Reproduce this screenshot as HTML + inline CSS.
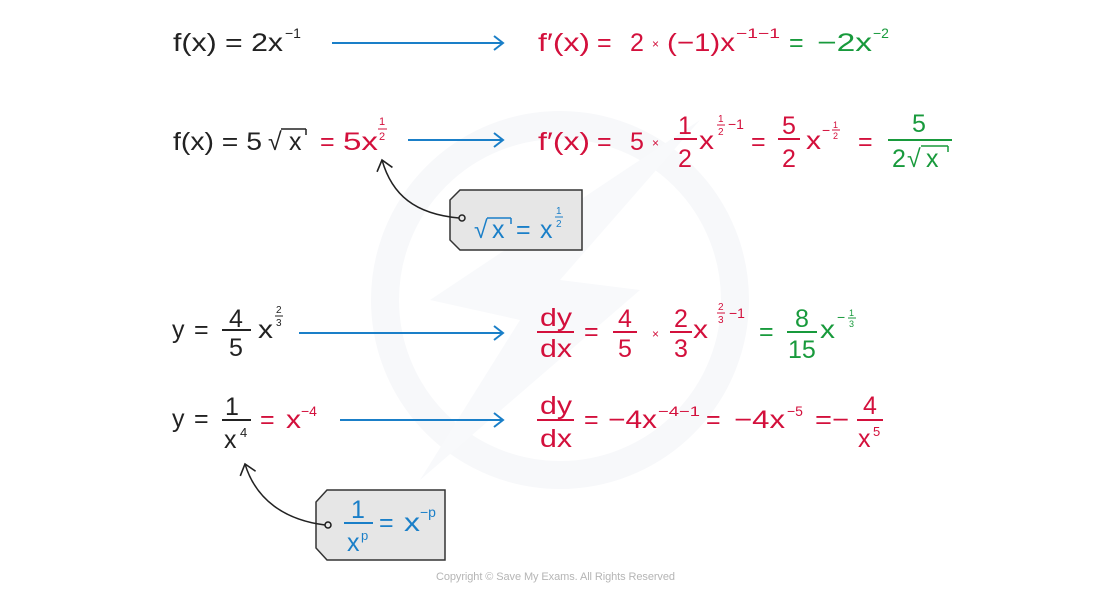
<!DOCTYPE html>
<html><head><meta charset="utf-8"><style>
html,body{margin:0;padding:0;background:#fff;}
svg{display:block;}
text{font-family:"Liberation Sans",sans-serif;}
.k{fill:#222}.r{fill:#d3103c}.g{fill:#189a3c}.b{fill:#1a7fc8}
</style></head><body>
<svg width="1100" height="594" viewBox="0 0 1100 594" xmlns="http://www.w3.org/2000/svg">
<defs>
<marker id="ab" markerWidth="12" markerHeight="16" refX="10" refY="8" orient="auto" markerUnits="userSpaceOnUse">
<path d="M1,1 L10,8 L1,15" fill="none" stroke="#1a7fc8" stroke-width="2"/></marker>
<marker id="ak" markerWidth="14" markerHeight="18" refX="11" refY="9" orient="auto" markerUnits="userSpaceOnUse">
<path d="M1,1 L11,9 L1,17" fill="none" stroke="#222" stroke-width="1.6"/></marker>
</defs>
<circle cx="560" cy="300" r="175" fill="none" stroke="#f7f8fa" stroke-width="28"/>
<path d="M430,300 L700,120 L560,280 L640,290 L420,480 L520,320 Z" fill="#f8f9fb"/>

<g font-size="25">
<!-- Row 1 -->
<text x="173" y="51" class="k" textLength="110" lengthAdjust="spacingAndGlyphs">f(x) = 2x</text>
<text x="285" y="38" class="k" font-size="14">−1</text>
<line x1="332" y1="43" x2="503" y2="43" stroke="#1a7fc8" stroke-width="2" marker-end="url(#ab)"/>
<text x="538" y="51" class="r" textLength="52" lengthAdjust="spacingAndGlyphs">f′(x)</text>
<text x="597" y="51" class="r">=</text>
<text x="630" y="51" class="r">2</text>
<text x="652" y="48" class="r" font-size="12">×</text>
<text x="667" y="51" class="r" textLength="68" lengthAdjust="spacingAndGlyphs">(−1)x</text>
<text x="736" y="38" class="r" font-size="14" textLength="44" lengthAdjust="spacingAndGlyphs">−1−1</text>
<text x="789" y="51" class="g">=</text>
<text x="817" y="51" class="g" textLength="55" lengthAdjust="spacingAndGlyphs">−2x</text>
<text x="873" y="38" class="g" font-size="14">−2</text>

<!-- Row 2 -->
<text x="173" y="150" class="k" textLength="89" lengthAdjust="spacingAndGlyphs">f(x) = 5</text>
<text x="268" y="150" class="k">√</text>
<line x1="281" y1="129" x2="306" y2="129" stroke="#222" stroke-width="1.5"/>
<line x1="306" y1="129" x2="306" y2="135" stroke="#222" stroke-width="1.5"/>
<text x="289" y="150" class="k">x</text>
<text x="320" y="150" class="r">=</text>
<text x="343" y="150" class="r" textLength="35" lengthAdjust="spacingAndGlyphs">5x</text>
<text x="379" y="125" class="r" font-size="11">1</text>
<line x1="378" y1="129" x2="387" y2="129" stroke="#d3103c" stroke-width="1"/>
<text x="379" y="140" class="r" font-size="11">2</text>
<line x1="408" y1="140" x2="503" y2="140" stroke="#1a7fc8" stroke-width="2" marker-end="url(#ab)"/>
<text x="538" y="150" class="r" textLength="52" lengthAdjust="spacingAndGlyphs">f′(x)</text>
<text x="597" y="150" class="r">=</text>
<text x="630" y="150" class="r">5</text>
<text x="652" y="147" class="r" font-size="12">×</text>
<text x="678" y="134" class="r">1</text>
<line x1="674" y1="139" x2="697" y2="139" stroke="#d3103c" stroke-width="2"/>
<text x="678" y="167" class="r">2</text>
<text x="699" y="149" class="r" textLength="15" lengthAdjust="spacingAndGlyphs">x</text>
<text x="718" y="122" class="r" font-size="10">1</text>
<line x1="717" y1="125" x2="725" y2="125" stroke="#d3103c" stroke-width="1"/>
<text x="718" y="135" class="r" font-size="10">2</text>
<text x="728" y="129" class="r" font-size="14">−1</text>
<text x="751" y="150" class="r">=</text>
<text x="782" y="134" class="r">5</text>
<line x1="778" y1="139" x2="800" y2="139" stroke="#d3103c" stroke-width="2"/>
<text x="782" y="167" class="r">2</text>
<text x="806" y="149" class="r" textLength="15" lengthAdjust="spacingAndGlyphs">x</text>
<text x="822" y="135" class="r" font-size="14">−</text>
<text x="833" y="128" class="r" font-size="9">1</text>
<line x1="832" y1="130" x2="840" y2="130" stroke="#d3103c" stroke-width="1"/>
<text x="833" y="139" class="r" font-size="9">2</text>
<text x="858" y="150" class="r">=</text>
<text x="912" y="132" class="g">5</text>
<line x1="888" y1="140" x2="952" y2="140" stroke="#189a3c" stroke-width="2"/>
<text x="892" y="167" class="g">2</text>
<text x="907" y="167" class="g">√</text>
<line x1="921" y1="146" x2="948" y2="146" stroke="#189a3c" stroke-width="1.5"/>
<line x1="948" y1="146" x2="948" y2="152" stroke="#189a3c" stroke-width="1.5"/>
<text x="926" y="167" class="g">x</text>

<!-- Tag 1 -->
<polygon points="460,190 582,190 582,250 460,250 450,240 450,200" fill="#e6e6e6" stroke="#333" stroke-width="1.5"/>
<circle cx="462" cy="218" r="3" fill="none" stroke="#222" stroke-width="1.5"/>
<path d="M459,218 C415,214 392,195 382,160" fill="none" stroke="#222" stroke-width="1.5" marker-end="url(#ak)"/>
<text x="474" y="238" class="b">√</text>
<line x1="487" y1="218" x2="511" y2="218" stroke="#1a7fc8" stroke-width="1.5"/>
<line x1="511" y1="218" x2="511" y2="224" stroke="#1a7fc8" stroke-width="1.5"/>
<text x="492" y="238" class="b">x</text>
<text x="516" y="238" class="b">=</text>
<text x="540" y="238" class="b">x</text>
<text x="556" y="214" class="b" font-size="10">1</text>
<line x1="555" y1="217" x2="563" y2="217" stroke="#1a7fc8" stroke-width="1"/>
<text x="556" y="227" class="b" font-size="10">2</text>

<!-- Row 3 -->
<text x="172" y="338" class="k">y</text>
<text x="194" y="338" class="k">=</text>
<text x="229" y="327" class="k">4</text>
<line x1="222" y1="330" x2="251" y2="330" stroke="#222" stroke-width="2"/>
<text x="229" y="356" class="k">5</text>
<text x="258" y="338" class="k" textLength="15" lengthAdjust="spacingAndGlyphs">x</text>
<text x="276" y="313" class="k" font-size="10">2</text>
<line x1="275" y1="316" x2="283" y2="316" stroke="#222" stroke-width="1"/>
<text x="276" y="326" class="k" font-size="10">3</text>
<line x1="299" y1="333" x2="503" y2="333" stroke="#1a7fc8" stroke-width="2" marker-end="url(#ab)"/>
<text x="540" y="326" class="r" textLength="32" lengthAdjust="spacingAndGlyphs">dy</text>
<line x1="537" y1="332" x2="574" y2="332" stroke="#d3103c" stroke-width="2"/>
<text x="540" y="357" class="r" textLength="32" lengthAdjust="spacingAndGlyphs">dx</text>
<text x="584" y="340" class="r">=</text>
<text x="618" y="327" class="r">4</text>
<line x1="613" y1="332" x2="637" y2="332" stroke="#d3103c" stroke-width="2"/>
<text x="618" y="357" class="r">5</text>
<text x="652" y="338" class="r" font-size="12">×</text>
<text x="674" y="327" class="r">2</text>
<line x1="670" y1="332" x2="692" y2="332" stroke="#d3103c" stroke-width="2"/>
<text x="674" y="357" class="r">3</text>
<text x="693" y="338" class="r" textLength="15" lengthAdjust="spacingAndGlyphs">x</text>
<text x="718" y="310" class="r" font-size="10">2</text>
<line x1="717" y1="313" x2="725" y2="313" stroke="#d3103c" stroke-width="1"/>
<text x="718" y="323" class="r" font-size="10">3</text>
<text x="729" y="318" class="r" font-size="14">−1</text>
<text x="759" y="340" class="g">=</text>
<text x="795" y="327" class="g">8</text>
<line x1="787" y1="332" x2="817" y2="332" stroke="#189a3c" stroke-width="2"/>
<text x="788" y="358" class="g">15</text>
<text x="820" y="338" class="g" textLength="15" lengthAdjust="spacingAndGlyphs">x</text>
<text x="837" y="322" class="g" font-size="14">−</text>
<text x="849" y="316" class="g" font-size="9">1</text>
<line x1="848" y1="318" x2="856" y2="318" stroke="#189a3c" stroke-width="1"/>
<text x="849" y="327" class="g" font-size="9">3</text>

<!-- Row 4 -->
<text x="172" y="427" class="k">y</text>
<text x="194" y="427" class="k">=</text>
<text x="225" y="415" class="k">1</text>
<line x1="222" y1="420" x2="251" y2="420" stroke="#222" stroke-width="2"/>
<text x="224" y="448" class="k">x</text>
<text x="240" y="437" class="k" font-size="13">4</text>
<text x="260" y="428" class="r">=</text>
<text x="286" y="428" class="r" textLength="15" lengthAdjust="spacingAndGlyphs">x</text>
<text x="301" y="416" class="r" font-size="14">−4</text>
<line x1="340" y1="420" x2="503" y2="420" stroke="#1a7fc8" stroke-width="2" marker-end="url(#ab)"/>
<text x="540" y="414" class="r" textLength="32" lengthAdjust="spacingAndGlyphs">dy</text>
<line x1="537" y1="420" x2="574" y2="420" stroke="#d3103c" stroke-width="2"/>
<text x="540" y="447" class="r" textLength="32" lengthAdjust="spacingAndGlyphs">dx</text>
<text x="584" y="428" class="r">=</text>
<text x="608" y="428" class="r" textLength="49" lengthAdjust="spacingAndGlyphs">−4x</text>
<text x="658" y="416" class="r" font-size="14" textLength="42" lengthAdjust="spacingAndGlyphs">−4−1</text>
<text x="706" y="428" class="r">=</text>
<text x="734" y="428" class="r" textLength="51" lengthAdjust="spacingAndGlyphs">−4x</text>
<text x="787" y="416" class="r" font-size="14">−5</text>
<text x="815" y="428" class="r" textLength="34" lengthAdjust="spacingAndGlyphs">=−</text>
<text x="863" y="414" class="r">4</text>
<line x1="857" y1="420" x2="883" y2="420" stroke="#d3103c" stroke-width="2"/>
<text x="858" y="447" class="r">x</text>
<text x="873" y="436" class="r" font-size="13">5</text>

<!-- Tag 2 -->
<polygon points="327,490 445,490 445,560 327,560 316,548 316,502" fill="#e6e6e6" stroke="#333" stroke-width="1.5"/>
<circle cx="328" cy="525" r="3" fill="none" stroke="#1a1a1a" stroke-width="1.5"/>
<path d="M325,525 C285,520 256,500 245,464" fill="none" stroke="#222" stroke-width="1.5" marker-end="url(#ak)"/>
<text x="351" y="518" class="b">1</text>
<line x1="344" y1="523" x2="373" y2="523" stroke="#1a7fc8" stroke-width="2"/>
<text x="347" y="551" class="b">x</text>
<text x="361" y="540" class="b" font-size="13">p</text>
<text x="379" y="531" class="b">=</text>
<text x="404" y="531" class="b" textLength="16" lengthAdjust="spacingAndGlyphs">x</text>
<text x="420" y="517" class="b" font-size="14">−p</text>
</g>

<text x="436" y="580" fill="#b5b5b5" font-size="11" textLength="239" lengthAdjust="spacing">Copyright © Save My Exams. All Rights Reserved</text>
</svg>
</body></html>
